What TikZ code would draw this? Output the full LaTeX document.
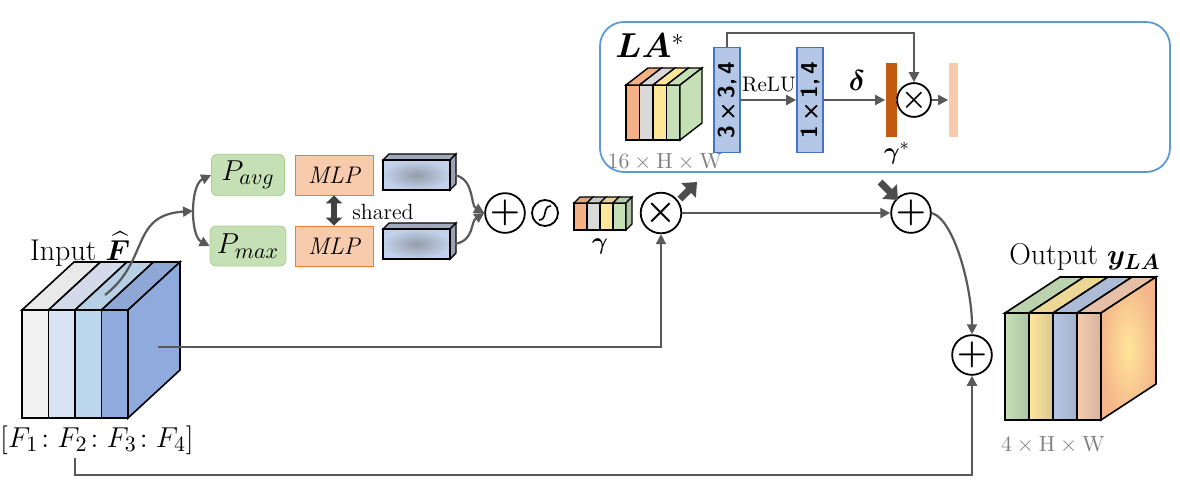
\documentclass[tikz,border=0pt]{standalone}
\usepackage{amsmath,bm}
\usetikzlibrary{arrows.meta,shapes.geometric}
\definecolor{gin1}{HTML}{F2F2F2}\definecolor{gin2}{HTML}{DAE3F3}\definecolor{gin3}{HTML}{BDD7EE}\definecolor{gin4}{HTML}{8FAADC}
\definecolor{cor}{HTML}{F4B183}\definecolor{cgr}{HTML}{D9D9D9}\definecolor{cye}{HTML}{FFE699}\definecolor{cgn}{HTML}{C5E0B4}
\definecolor{cbl}{HTML}{B4C7E7}\definecolor{cpe}{HTML}{F8CBAD}\definecolor{arr}{HTML}{595959}
\definecolor{gbox}{HTML}{A9D18E}\definecolor{obd}{HTML}{ED7D31}\definecolor{bbd}{HTML}{4472C4}\definecolor{labd}{HTML}{5B9BD5}
\definecolor{dor}{HTML}{C55A11}
\begin{document}
\begin{tikzpicture}[x=0.5pt,y=-0.5pt,
  ln/.style={draw=arr,line width=1.1pt},
  ar/.style={ln,-{Triangle[length=5pt,width=5pt]}},
  op/.style={circle,draw,line width=0.9pt,minimum size=14pt,inner sep=0pt,fill=white,font=\fontsize{18}{18}\selectfont\boldmath},
  grn/.style={draw=gbox,fill=cgn,rounded corners=3pt,minimum width=36.5pt,minimum height=20pt,font=\fontsize{15}{16}\selectfont},
  mlp/.style={draw=obd,fill=cpe,minimum width=39pt,minimum height=20pt,font=\fontsize{12}{14}\selectfont\itshape},
  conv/.style={draw=bbd,fill=cbl,line width=0.8pt,minimum width=105*0.5pt,minimum height=13pt,rotate=90,font=\sffamily\bfseries\fontsize{11.5}{12}\selectfont,inner sep=0pt},
  fat/.style={draw=black!70,-{Triangle[length=6pt,width=10pt]},line width=3.5pt}]
\useasboundingbox (0,0) rectangle (1180,494);
% ---- input cube
\foreach \c [count=\i from 0] in {gin1,gin2,gin3,gin4}{
  \pgfmathsetmacro\xa{22+26.5*\i}\pgfmathsetmacro\xb{22+26.5*(\i+1)}
  \draw[fill=\c,line width=0.8pt] (\xa,310) rectangle (\xb,418);
  \draw[fill=\c!92!gray,line width=0.8pt] (\xa,310)--(\xa+52,262)--(\xb+52,262)--(\xb,310)--cycle;}
\draw[fill=gin4,line width=0.8pt] (128,310)--(180,262)--(180,370)--(128,418)--cycle;
\coordinate (inS) at (105,295);
\coordinate (inM) at (158,347);
\coordinate (inB) at (75,458);
\node[font=\fontsize{15}{16}\selectfont] (inL) at (80,249) {Input $\widehat{\bm{F}}$};
\node[font=\fontsize{15}{16}\selectfont] (inT) at (97,440) {$[F_1\!: F_2\!: F_3\!: F_4]$};
% ---- channel branch
\node[grn] (pavg) at (248,175) {$P_{avg}$};
\node[grn] (pmax) at (248,246) {$P_{max}$};
\node[mlp] (m1) at (334,175) {MLP};
\node[mlp] (m2) at (334,246) {MLP};
\draw[black!75,line width=3pt,{Triangle[length=4pt,width=8pt]}-{Triangle[length=4pt,width=8pt]}] (m1.south) -- (m2.south|-m2.north);
\node[font=\fontsize{11}{12}\selectfont] (sh) at (383,212) {shared};
\foreach \y/\nm in {175/b1,244/b2}{
  \fill[cbl!60!gray,draw=black,line width=0.7pt] (383,\y-15)--(389,\y-21)--(456,\y-21)--(450,\y-15)--cycle;
  \fill[cbl!50!gray,draw=black,line width=0.7pt] (450,\y-15)--(456,\y-21)--(456,\y+9)--(450,\y+15)--cycle;
  \shade[inner color=cbl!40!gray,outer color=cbl!80,draw=black,line width=0.7pt] (383,\y-15) rectangle (450,\y+15);
  \coordinate (\nm) at (455,\y);}
\coordinate (jn) at (193,211);
\draw[ar] (inS) .. controls (150,260) and (130,215) .. (jn);
\draw[ln,{Triangle[length=5pt,width=5pt]}-{Triangle[length=5pt,width=5pt]}] (pavg.west) .. controls (190,185) and (190,236) .. (pmax.west);
\node[op] (plus1) at (505,213) {$+$};
\node[op,minimum size=13pt] (sig) at (545,213) {};
\draw[line width=0.8pt] (sig.center)+(-6,7) .. controls +(9,0) and +(-9,0) .. +(6,-7);
\draw[ar] (b1) .. controls (475,180) and (470,205) .. (plus1.west);
\draw[ar] (b2) .. controls (475,240) and (470,222) .. (plus1.west);
% gamma
\foreach \c [count=\i from 0] in {cor,cgr,cye,cgn}{
  \pgfmathsetmacro\xa{574+13*\i}\pgfmathsetmacro\xb{574+13*(\i+1)}
  \draw[fill=\c,line width=0.6pt] (\xa,203) rectangle (\xb,230);
  \draw[fill=\c!80!gray,line width=0.6pt] (\xa,203)--(\xa+6,197)--(\xb+6,197)--(\xb,203)--cycle;}
\draw[fill=cgn!70!gray,line width=0.6pt] (626,203)--(632,197)--(632,224)--(626,230)--cycle;
\node[font=\fontsize{13}{14}\selectfont] (gam) at (600,246) {$\bm{\gamma}$};
\node[op] (ot1) at (661,213) {$\times$};
\draw[ar] (inM) -| (ot1.south);
\node[op] (plus2) at (911,213) {$+$};
\draw[ar] (ot1.east) -- (plus2.west);
\node[op] (plus3) at (972,355) {$+$};
\draw[ar] (plus2.east) .. controls (955,220) and (972,290) .. (plus3.north);
\draw[ar] (inB) |- (972,475) -- (plus3.south);
% ---- LA box
\node[draw=labd,line width=0.9pt,rounded corners=12pt,minimum width=285pt,minimum height=75pt] (la) at (885,97) {};
\node[font=\fontsize{17}{18}\selectfont] (lat) at (650,46) {$\bm{LA}^{*}$};
\foreach \c [count=\i from 0] in {cor,cgr,cye,cgn}{
  \pgfmathsetmacro\xa{626+13.5*\i}\pgfmathsetmacro\xb{626+13.5*(\i+1)}
  \draw[fill=\c,line width=0.7pt] (\xa,85) rectangle (\xb,140);
  \draw[fill=\c,line width=0.7pt] (\xa,85)--(\xa+22,68)--(\xb+22,68)--(\xb,85)--cycle;}
\draw[fill=cgn,line width=0.7pt] (680,85)--(702,68)--(702,123)--(680,140)--cycle;
\node[text=gray,font=\fontsize{11}{12}\selectfont] (dim1) at (665,162) {$16\times\mathrm{H}\times\mathrm{W}$};
\node[conv] (c1) at (727,100) {3\,\texttimes\,3,\,4};
\node[conv] (c2) at (810,100) {1\,\texttimes\,1,\,4};
\node[font=\fontsize{10.5}{12}\selectfont] (relu) at (769,85) {ReLU};
\draw[ar] (c1.south) -- (c2.north);
\node[font=\fontsize{14}{14}\selectfont] (del) at (857,80) {$\bm{\delta}$};
\node[draw=none,fill=dor,minimum width=5.5pt,minimum height=37pt,inner sep=0pt] (gs) at (891,100) {};
\draw[ar] (c2.south) -- (gs.west);
\node[font=\fontsize{13}{14}\selectfont] (gsl) at (897,153) {$\bm{\gamma}^{*}$};
\node[op,minimum size=11pt,font=\fontsize{14}{14}\selectfont\boldmath] (ot2) at (914,100) {$\times$};
\draw[ln] (gs.east) -- (ot2.west);
\node[draw=none,fill=cpe,minimum width=4.5pt,minimum height=37pt,inner sep=0pt] (pb) at (953,100) {};
\draw[ar] (ot2.east) -- (pb.west);
\coordinate (skp) at (914,33);
\draw[ar] (c1.east) |- (skp) -- (ot2.north);
\draw[fat] (680,199) -- (697,182);
\draw[fat] (880,182) -- (898,200);
% ---- output cube
\node[font=\fontsize{15}{16}\selectfont] (outL) at (1085,257) {Output $\bm{y_{LA}}$};
\foreach \c [count=\i from 0] in {cgn,cye,cbl,cpe}{
  \pgfmathsetmacro\xa{1005+24*\i}\pgfmathsetmacro\xb{1005+24*(\i+1)}
  \shade[left color=\c,right color=\c!70!gray,draw=black,line width=0.8pt] (\xa,313) rectangle (\xb,420);
  \draw[fill=\c!85!gray,line width=0.8pt] (\xa,313)--(\xa+55,277)--(\xb+55,277)--(\xb,313)--cycle;}
\shade[inner color=cye,outer color=cor!80!cpe,draw=black,line width=0.8pt] (1101,313)--(1156,277)--(1156,384)--(1101,420)--cycle;
\node[text=gray,font=\fontsize{11}{12}\selectfont] (dim2) at (1053,445) {$4\times\mathrm{H}\times\mathrm{W}$};
\end{tikzpicture}
\end{document}
